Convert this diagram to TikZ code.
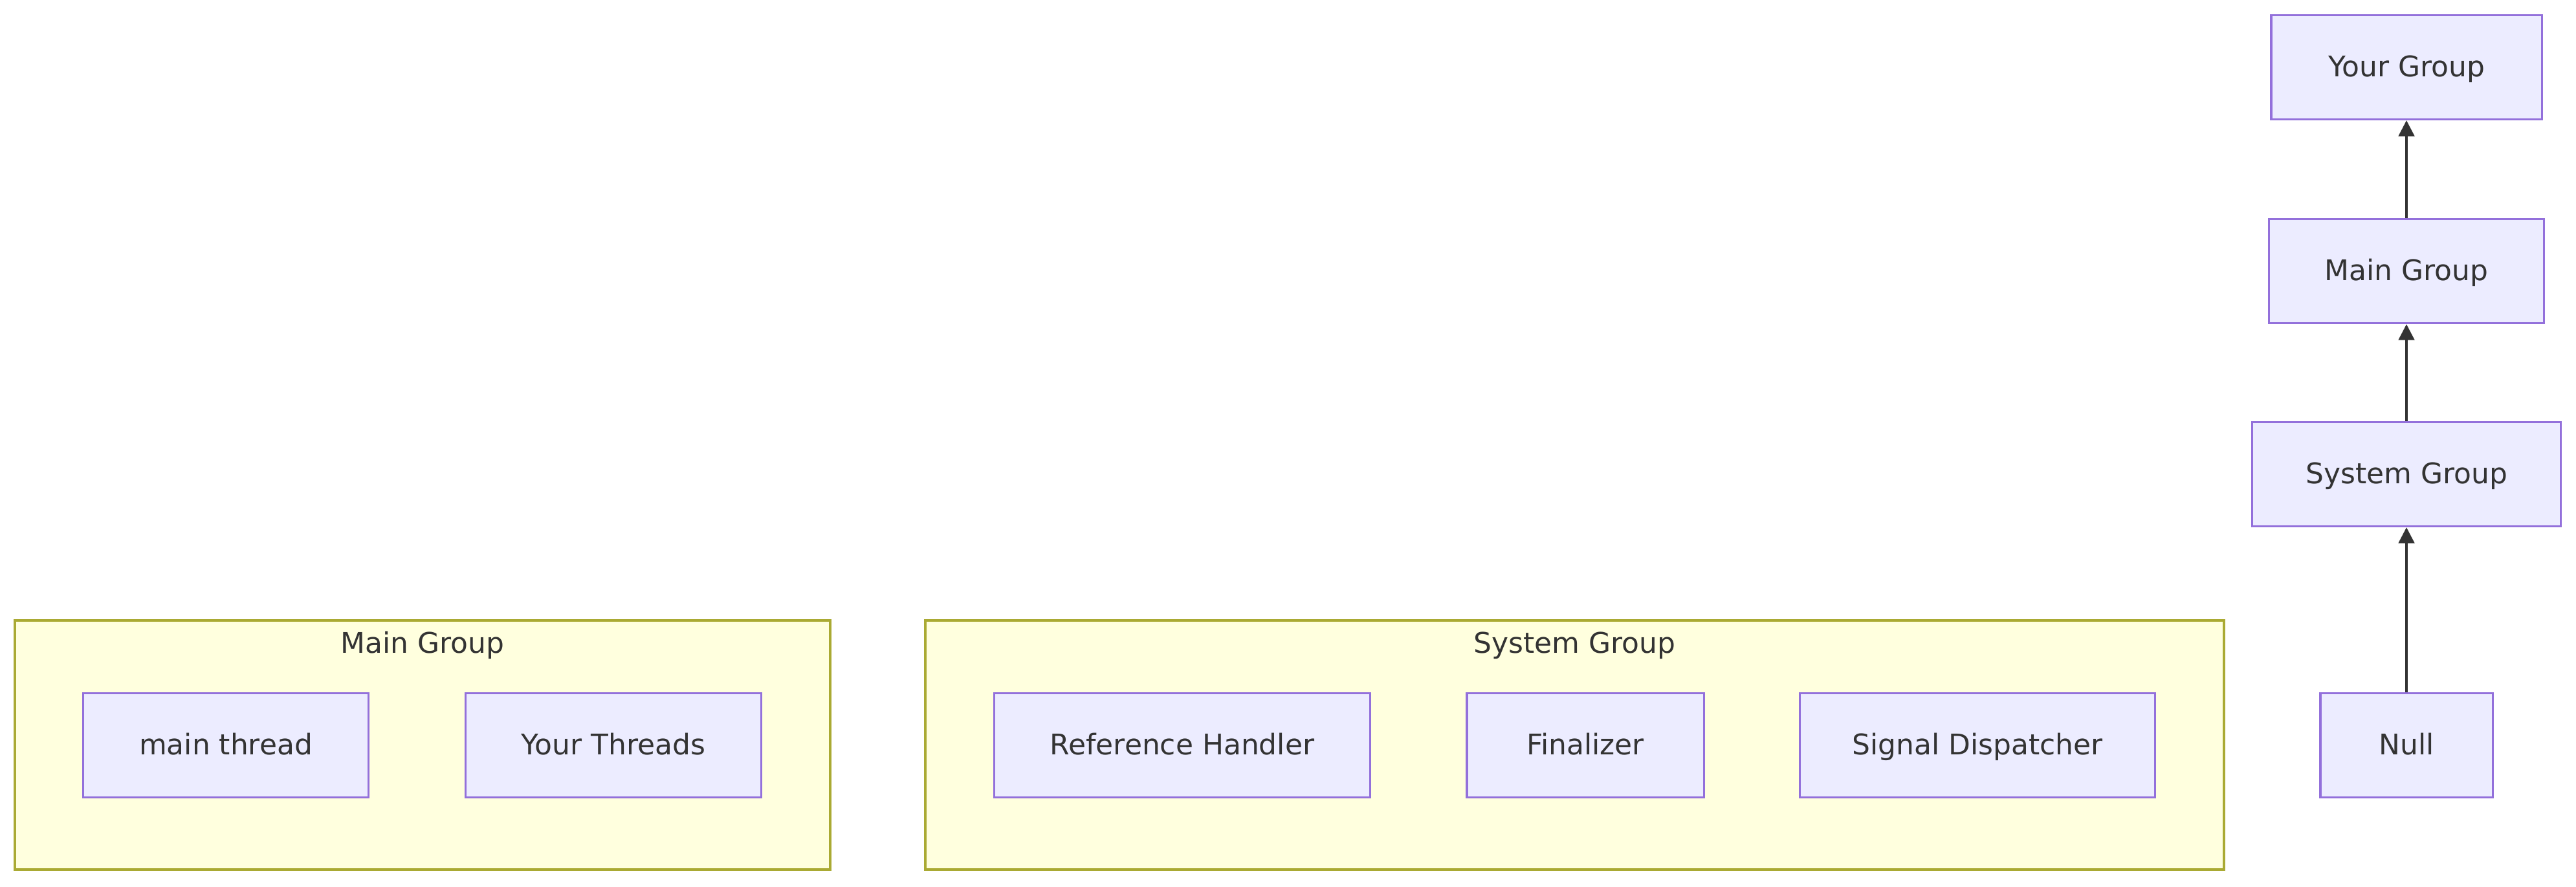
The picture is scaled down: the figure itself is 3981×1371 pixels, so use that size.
\documentclass[tikz,border=0pt]{standalone}
\usepackage{fontspec}
\setmainfont{DejaVu Sans}
\usetikzlibrary{arrows.meta}

\definecolor{nodefill}{HTML}{ECECFF}
\definecolor{nodeline}{HTML}{9370DB}
\definecolor{groupfill}{HTML}{FFFFDE}
\definecolor{groupline}{HTML}{AAAA33}
\definecolor{inkgrey}{HTML}{333333}

\tikzset{
    threadbox/.style={draw=nodeline, fill=nodefill, line width=0.9pt,
        text=inkgrey, font=\fontsize{12.5}{15}\selectfont,
        text height=0.84em, text depth=0pt,
        minimum height=1.61cm, inner sep=0pt},
    groupbox/.style={draw=groupline, fill=groupfill, line width=0.9pt},
    grouplabel/.style={text=inkgrey, font=\fontsize{12.5}{15}\selectfont,
        text height=0.84em, text depth=0pt},
    parentarrow/.style={-{Triangle[length=7pt,width=7pt]}, draw=inkgrey,
        line width=1pt}
}

\begin{document}
\begin{tikzpicture}[x=0.01cm, y=-0.01cm]
                    % Page frame
                    \useasboundingbox (0,0) rectangle (3981,1371);

                    % Main Group cluster
                    \draw[groupbox] (23,959) rectangle (1283,1344);
                    \node[grouplabel] (mainlabel) at (653,995) {Main Group};
                    \node[threadbox, minimum width=4.41cm] (mainthread) at (349,1152) {main thread};
                    \node[threadbox, minimum width=4.57cm] (yourthreads) at (948,1152) {Your Threads};

                    % System Group cluster
                    \draw[groupbox] (1430,959) rectangle (3437,1344);
                    \node[grouplabel] (systemlabel) at (2433,995) {System Group};
                    \node[threadbox, minimum width=5.80cm] (refhandler) at (1827,1152) {Reference Handler};
                    \node[threadbox, minimum width=3.66cm] (finalizer) at (2450,1152) {Finalizer};
                    \node[threadbox, minimum width=5.49cm] (sigdispatch) at (3056,1152) {Signal Dispatcher};

                    % Group hierarchy on the right
                    \node[threadbox, minimum width=4.18cm] (yourgroup) at (3719,104) {Your Group};
                    \node[threadbox, minimum width=4.25cm] (maingroup) at (3719,419) {Main Group};
                    \node[threadbox, minimum width=4.77cm] (systemgroup) at (3719,733) {System Group};
                    \node[threadbox, minimum width=2.66cm] (null) at (3719,1152) {Null};

                    % Parent links
                    \draw[parentarrow] (null) -- (systemgroup);
                    \draw[parentarrow] (systemgroup) -- (maingroup);
                    \draw[parentarrow] (maingroup) -- (yourgroup);
                \end{tikzpicture}
\end{document}
